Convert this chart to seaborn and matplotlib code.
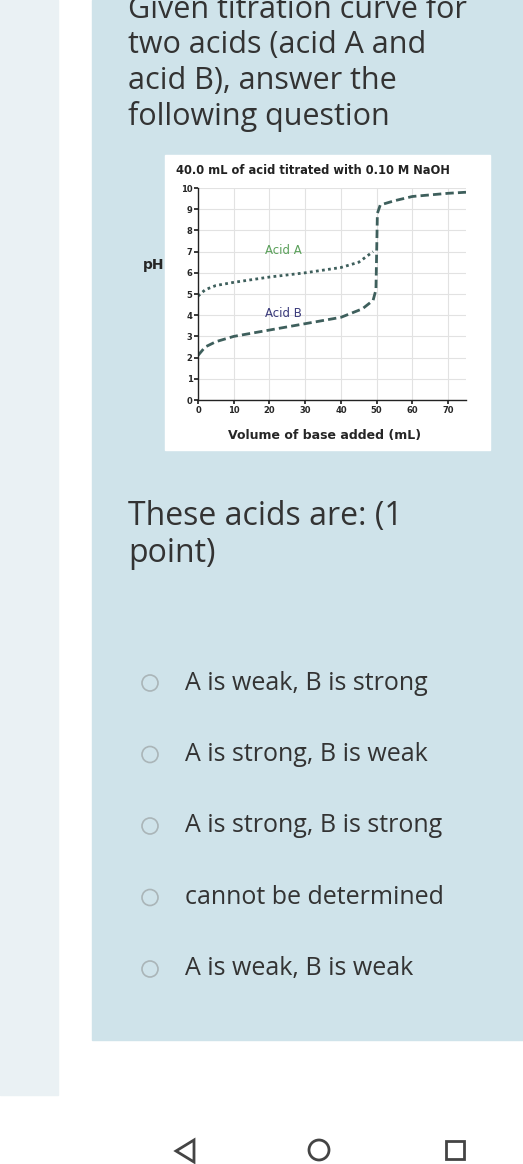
import matplotlib
matplotlib.use("Agg")
import matplotlib.pyplot as plt
import seaborn as sns
import pandas as pd
from matplotlib.patches import Rectangle, Circle, Polygon

sns.set_theme(style="whitegrid")
plt.rcParams['font.family'] = ['DejaVu Sans']

vol_a = [0, 2, 5, 10, 20, 30, 40, 45, 49]
ph_a = [4.9, 5.2, 5.4, 5.55, 5.8, 6.0, 6.25, 6.5, 7.0]
vol_b = [0, 2, 5, 10, 20, 30, 40, 46, 49, 49.8, 50, 50.2, 51, 55, 60, 70, 75]
ph_b = [2.1, 2.5, 2.75, 3.0, 3.3, 3.6, 3.9, 4.3, 4.7, 5.2, 7.0, 8.8, 9.2, 9.4, 9.6, 9.75, 9.8]
xticks = [0, 10, 20, 30, 40, 50, 60, 70]
yticks = list(range(0, 11))
options = ["A is weak, B is strong", "A is strong, B is weak", "A is strong, B is strong",
           "cannot be determined", "A is weak, B is weak"]

W, H = 523, 1164
fig = plt.figure(figsize=(W/100, H/100), dpi=100)
fig.patch.set_facecolor("white")

bg = fig.add_axes([0, 0, 1, 1]); bg.set_xlim(0, W); bg.set_ylim(H, 0); bg.axis("off")
bg.add_patch(Rectangle((0, 0), 58, 1095, color="#eaf1f4"))
bg.add_patch(Rectangle((92, 0), 431, 1040, color="#cfe3ea"))
bg.add_patch(Rectangle((165, 155), 325, 295, color="white"))
bg.add_patch(Polygon([[194, 1140], [194, 1162], [176, 1151]], closed=True, fill=False, ec="#444", lw=2))
bg.add_patch(Circle((319, 1150), 10, fill=False, ec="#444", lw=2))
bg.add_patch(Rectangle((446, 1141), 18, 18, fill=False, ec="#444", lw=2))
for i, line in enumerate(["Given titration curve for", "two acids (acid A and",
                          "acid B), answer the", "following question"]):
    bg.text(128, 10 + i * 35.5, line, fontsize=22, color="#333", va="center", family="Open Sans")
bg.text(128, 517, "These acids are: (1", fontsize=23, color="#333", va="center", family="Open Sans")
bg.text(128, 553, "point)", fontsize=23, color="#333", va="center", family="Open Sans")
for i, o in enumerate(options):
    y = 683 + i * 71.5
    bg.add_patch(Circle((150, y), 8, fill=False, ec="#aab5b8", lw=1.2))
    bg.text(185, y, o, fontsize=18, color="#333", va="center", family="Open Sans")
bg.text(176, 170, "40.0 mL of acid titrated with 0.10 M NaOH", fontsize=8.3, weight="bold",
        color="#222", va="center")
bg.text(143, 265, "pH", fontsize=10, weight="bold", va="center")
bg.text(325, 435, "Volume of base added (mL)", fontsize=9, weight="bold", ha="center", va="center")

x0, x1, y0, y1 = 198, 466, 188, 400
ax = fig.add_axes([x0/W, 1 - y1/H, (x1-x0)/W, (y1-y0)/H])
ax.set_facecolor("white")
sns.lineplot(x=vol_a, y=ph_a, ax=ax, color="#3e5f5c", lw=2, linestyle=(0, (1, 1.2)))
sns.lineplot(x=vol_b, y=ph_b, ax=ax, color="#3e5f5c", lw=2, linestyle=(0, (3, 1.5)))
ax.set_xlim(0, 75); ax.set_ylim(0, 10)
ax.set_xticks(xticks); ax.set_yticks(yticks)
ax.set_xticklabels([str(t) for t in xticks], fontsize=6, weight="bold")
ax.set_yticklabels([str(t) for t in yticks], fontsize=6, weight="bold")
ax.grid(color="#e2e2e2", lw=0.8)
for s in ["top", "right"]: ax.spines[s].set_visible(False)
for s in ["left", "bottom"]: ax.spines[s].set_color("#222"); ax.spines[s].set_linewidth(1)
ax.tick_params(length=3, pad=1, color="#222", left=True, bottom=True)
ax.text(24, 6.9, "Acid A", color="#5aa05a", fontsize=8.5, ha="center")
ax.text(24, 3.9, "Acid B", color="#3a3a7a", fontsize=8.5, ha="center")
ax.set_xlabel(""); ax.set_ylabel("")
fig.savefig("out.png", dpi=100)
